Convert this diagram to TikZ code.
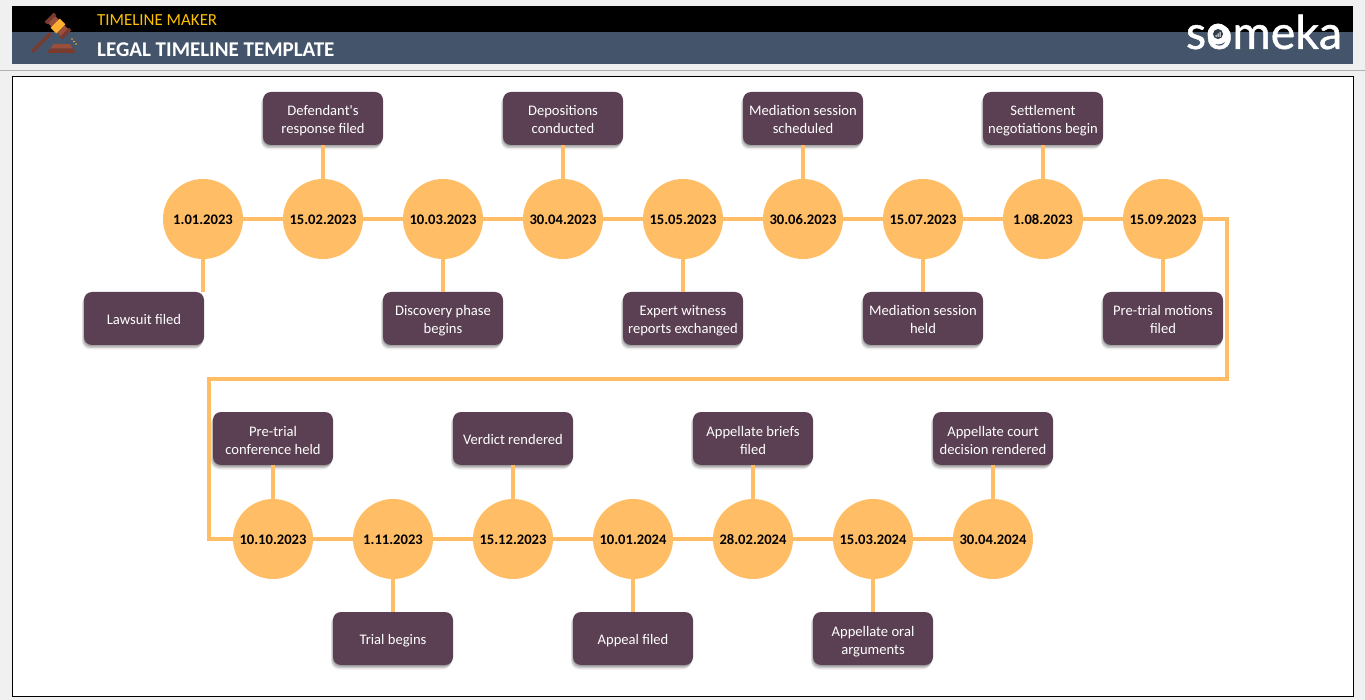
\documentclass[tikz,border=0pt]{standalone}
\usepackage{fontspec}
\setmainfont[Ligatures=TeXOff]{Carlito}
\newfontfamily\logofont[FakeBold=1]{Lato}
\usetikzlibrary{shapes,positioning,shadows}
\definecolor{pagegray}{HTML}{F0F0F0}
\definecolor{slate}{HTML}{44546A}
\definecolor{sand}{HTML}{FFBD66}
\definecolor{plum}{HTML}{5A4052}
\definecolor{gold}{HTML}{FFC000}
\definecolor{gavel}{HTML}{9A4F3D}
\definecolor{gaveldark}{HTML}{7A3B2E}
\definecolor{band}{HTML}{FFB030}
\begin{document}
\begin{tikzpicture}[x=1pt,y=-1pt,auto,node distance=120pt]
                \tikzstyle{date}=[circle,fill=sand,minimum size=80pt,inner sep=0pt,text=black,font=\fontsize{14.6}{16}\selectfont\bfseries,execute at begin node={\rule{0pt}{11.5pt}}]
                \tikzstyle{event}=[rectangle,rounded corners=8pt,fill=plum,text=white,minimum width=120pt,minimum height=53pt,inner sep=0pt,align=center,text depth=0pt,font=\fontsize{14.6}{18}\selectfont,
                        drop shadow={shadow xshift=-0.5pt,shadow yshift=-1.5pt,fill=black,opacity=0.18},
                        drop shadow={shadow xshift=-1.5pt,shadow yshift=-3pt,fill=black,opacity=0.14},
                        drop shadow={shadow xshift=-2pt,shadow yshift=-4.5pt,fill=black,opacity=0.08}]
                \tikzstyle{eventup}=[event,node distance=100.5pt]
                \tikzstyle{eventdown}=[event,node distance=99.5pt]
                \tikzstyle{oneline}=[execute at begin node={\rule{0pt}{11.5pt}}]
                \tikzstyle{twoline}=[execute at begin node={\rule{0pt}{31pt}}]
                \tikzstyle{link}=[draw=sand,line width=4pt]
                \useasboundingbox (0,0) rectangle (1365,700);

                \fill[pagegray] (0,0) rectangle (1365,700);
                \fill[black] (12,6) rectangle (1353,32);
                \fill[slate] (12,32) rectangle (1353,64);
                \draw[black!30,line width=0.8pt] (0,70.5) -- (1365,70.5);
                \draw[black,fill=white,line width=0.8pt] (12.5,76.5) rectangle (1353.5,696.5);

                \fill[gaveldark] (47,53) -- (50,48.5) -- (73,48.5) -- (76,53) -- cycle;
                \fill[gavel] (50,48.5) -- (54,44) -- (70,44) -- (73,48.5) -- cycle;
                \fill[band] (72,39) circle (0.9) (74,41.5) circle (0.9) (76,44) circle (0.9);
                \draw[gaveldark,line width=3.5pt,line cap=round] (33,51) -- (50,34);
                \begin{scope}[shift={(58,26)},rotate=-45]
                \fill[gavel] (-10,-5) rectangle (10,5);
                \fill[band] (-4,-6.5) rectangle (4,6.5);
                \fill[gaveldark] (-12.5,-6.5) rectangle (-9,6.5);
                \fill[gaveldark] (9,-6.5) rectangle (12.5,6.5);
                \end{scope}

                \node[text=gold,anchor=west,inner sep=0pt,font=\fontsize{16.9}{18}\selectfont] (maker) at (97,20.5) {TIMELINE MAKER};
                \node[text=white,anchor=west,inner sep=0pt,font=\fontsize{21}{22}\selectfont\bfseries] (title) at (97,50) {LEGAL TIMELINE TEMPLATE};
                \node[text=white,anchor=center,inner sep=0pt,font=\fontsize{46.5}{48}\selectfont\logofont] (logo) at (1264,32) {someka};
                \fill[white] (1218,34) circle (10.5);
                \fill[slate!70!black] (1218,34) circle (5);
                \fill[white] (1215.5,35) rectangle (1216.5,37) (1217.5,33.5) rectangle (1218.5,37) (1219.5,32) rectangle (1220.5,37);

                \node[date] (d_1) at (203,219) {1.01.2023};
                \node[date] (d_2) [right of=d_1] {15.02.2023};
                \node[date] (d_3) [right of=d_2] {10.03.2023};
                \node[date] (d_4) [right of=d_3] {30.04.2023};
                \node[date] (d_5) [right of=d_4] {15.05.2023};
                \node[date] (d_6) [right of=d_5] {30.06.2023};
                \node[date] (d_7) [right of=d_6] {15.07.2023};
                \node[date] (d_8) [right of=d_7] {1.08.2023};
                \node[date] (d_9) [right of=d_8] {15.09.2023};

                \node[date] (d_10) at (273,539) {10.10.2023};
                \node[date] (d_11) [right of=d_10] {1.11.2023};
                \node[date] (d_12) [right of=d_11] {15.12.2023};
                \node[date] (d_13) [right of=d_12] {10.01.2024};
                \node[date] (d_14) [right of=d_13] {28.02.2024};
                \node[date] (d_15) [right of=d_14] {15.03.2024};
                \node[date] (d_16) [right of=d_15] {30.04.2024};

                \node[event,oneline] (e_1) at (144,318.5) {Lawsuit filed};
                \node[eventup,twoline] (e_2) [above of=d_2] {Defendant's\\response filed};
                \node[eventdown,twoline] (e_3) [below of=d_3] {Discovery phase\\begins};
                \node[eventup,twoline] (e_4) [above of=d_4] {Depositions\\conducted};
                \node[eventdown,twoline] (e_5) [below of=d_5] {Expert witness\\reports exchanged};
                \node[eventup,twoline] (e_6) [above of=d_6] {Mediation session\\scheduled};
                \node[eventdown,twoline] (e_7) [below of=d_7] {Mediation session\\held};
                \node[eventup,twoline] (e_8) [above of=d_8] {Settlement\\negotiations begin};
                \node[eventdown,twoline] (e_9) [below of=d_9] {Pre-trial motions\\filed};

                \node[eventup,twoline] (e_10) [above of=d_10] {Pre-trial\\conference held};
                \node[eventdown,oneline] (e_11) [below of=d_11] {Trial begins};
                \node[eventup,oneline] (e_12) [above of=d_12] {Verdict rendered};
                \node[eventdown,oneline] (e_13) [below of=d_13] {Appeal filed};
                \node[eventup,twoline] (e_14) [above of=d_14] {Appellate briefs\\filed};
                \node[eventdown,twoline] (e_15) [below of=d_15] {Appellate oral\\arguments};
                \node[eventup,twoline] (e_16) [above of=d_16] {Appellate court\\decision rendered};

                \coordinate (turn_a) at (1227,219);
                \coordinate (turn_b) at (1227,379);
                \coordinate (turn_c) at (209,379);
                \coordinate (turn_d) at (209,539);

                \path[link] (d_1) -- (d_2);
                \path[link] (d_2) -- (d_3);
                \path[link] (d_3) -- (d_4);
                \path[link] (d_4) -- (d_5);
                \path[link] (d_5) -- (d_6);
                \path[link] (d_6) -- (d_7);
                \path[link] (d_7) -- (d_8);
                \path[link] (d_8) -- (d_9);
                \path[link,line join=miter] (d_9) -- (turn_a) -- (turn_b) -- (turn_c) -- (turn_d) -- (d_10);
                \path[link] (d_10) -- (d_11);
                \path[link] (d_11) -- (d_12);
                \path[link] (d_12) -- (d_13);
                \path[link] (d_13) -- (d_14);
                \path[link] (d_14) -- (d_15);
                \path[link] (d_15) -- (d_16);

                \path[link] (d_1) -- (d_1 |- e_1.north);
                \path[link] (d_2) -- (e_2);
                \path[link] (d_3) -- (e_3);
                \path[link] (d_4) -- (e_4);
                \path[link] (d_5) -- (e_5);
                \path[link] (d_6) -- (e_6);
                \path[link] (d_7) -- (e_7);
                \path[link] (d_8) -- (e_8);
                \path[link] (d_9) -- (e_9);
                \path[link] (d_10) -- (e_10);
                \path[link] (d_11) -- (e_11);
                \path[link] (d_12) -- (e_12);
                \path[link] (d_13) -- (e_13);
                \path[link] (d_14) -- (e_14);
                \path[link] (d_15) -- (e_15);
                \path[link] (d_16) -- (e_16);
\end{tikzpicture}
\end{document}
